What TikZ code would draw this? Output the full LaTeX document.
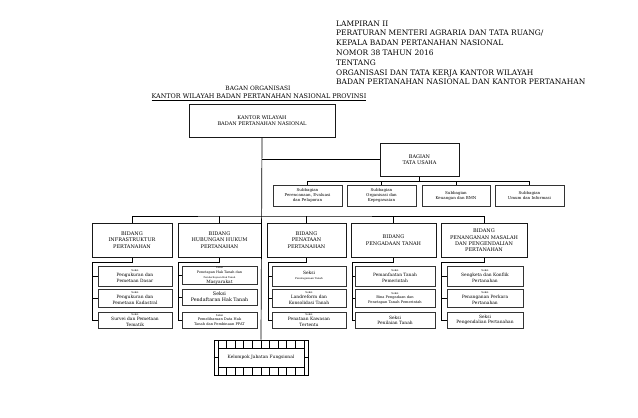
\documentclass[tikz,border=0pt]{standalone}
\usepackage{fontspec}
\setmainfont{DejaVu Serif}
\newcommand{\fs}[2]{\fontsize{#1}{#2}\selectfont}
\begin{document}
\begin{tikzpicture}[x=1pt,y=-1pt,
  bigbox/.style={draw=black!90, line width=1pt, align=center, inner sep=0pt, font=\fs{5}{6.4}},
  sbox/.style={draw=black!80, line width=0.8pt, align=center, inner sep=0pt, font=\fs{4.4}{5.2}},
  conn/.style={draw=black, line width=0.7pt},
  hdr/.style={inner sep=0pt, align=left}]
\useasboundingbox (0,0) rectangle (638,418);
% header
\node[hdr, anchor=north west, font=\fs{7.5}{9.8}] (head) at (336,20.5)
 {LAMPIRAN II\\PERATURAN MENTERI AGRARIA DAN TATA RUANG/\\KEPALA BADAN PERTANAHAN NASIONAL\\NOMOR 38 TAHUN 2016\\TENTANG\\ORGANISASI DAN TATA KERJA KANTOR WILAYAH\\BADAN PERTANAHAN NASIONAL DAN KANTOR PERTANAHAN};
\node[inner sep=0pt, font=\fs{5.9}{7}] (t1) at (258,88) {BAGAN ORGANISASI};
\node[inner sep=0pt, font=\fs{6.4}{7}] (t2) at (259,97) {\underline{KANTOR WILAYAH BADAN PERTANAHAN NASIONAL PROVINSI}};
% top boxes
\node[bigbox, minimum width=146pt, minimum height=33pt] (kw) at (262,120.5) {KANTOR WILAYAH\\BADAN PERTANAHAN NASIONAL};
\node[bigbox, minimum width=79pt, minimum height=33pt] (tu) at (419.5,159.5) {BAGIAN\\TATA USAHA};
% subbagian
\begin{scope}[every node/.style={sbox, minimum height=21pt, font=\fs{4}{5}}]
\node[minimum width=69pt] (sb1) at (307.5,195.5) {Subbagian\\Perencanaan, Evaluasi\\dan Pelaporan};
\node[minimum width=69pt] (sb2) at (381.5,195.5) {Subbagian\\Organisasi dan\\Kepegawaian};
\node[minimum width=68pt] (sb3) at (456,195.5) {Subbagian\\Keuangan dan BMN};
\node[minimum width=69pt] (sb4) at (529.5,195.5) {Subbagian\\Umum dan Informasi};
\end{scope}
% bidang
\begin{scope}[every node/.style={bigbox, minimum height=34pt}]
\node[minimum width=80pt] (bd1) at (132,240) {BIDANG\\INFRASTRUKTUR\\PERTANAHAN};
\node[minimum width=83pt] (bd2) at (219.5,240) {BIDANG\\HUBUNGAN HUKUM\\PERTANAHAN};
\node[minimum width=79pt] (bd3) at (306.5,240) {BIDANG\\PENATAAN\\PERTANAHAN};
\node[minimum width=85pt] (bd4) at (393.5,240) {BIDANG\\PENGADAAN TANAH};
\node[minimum width=86pt] (bd5) at (484,240.5) {BIDANG\\PENANGANAN MASALAH\\DAN PENGENDALIAN\\PERTANAHAN};
\end{scope}
% seksi
\newcommand{\sk}{{\fs{2.6}{3}Seksi}\\}
\begin{scope}[every node/.style={sbox}]
% col 1
\node[minimum width=74pt, minimum height=20pt] (s11) at (135,276) {\sk Pengukuran dan\\Pemetaan Dasar};
\node[minimum width=74pt, minimum height=18pt] (s12) at (135,298) {\sk Pengukuran dan\\Pemetaan Kadastral};
\node[minimum width=74pt, minimum height=16pt] (s13) at (135,320) {\sk Survei dan Pemetaan\\Tematik};
% col 2
\node[minimum width=75pt, minimum height=18pt] (s21) at (219.5,275.5) {\sk {\fs{3.4}{4}Penetapan Hak Tanah dan}\\{\fs{2.4}{3}Pemberdayaan Hak Tanah}\\Masyarakat};
\node[minimum width=75pt, minimum height=16pt, font=\fs{4.8}{5.6}] (s22) at (219.5,297) {Seksi\\Pendaftaran Hak Tanah};
\node[minimum width=75pt, minimum height=16pt, font=\fs{3.6}{4.6}] (s23) at (219.5,320) {\sk Pemeliharaan Data Hak\\Tanah dan Pembinaan PPAT};
% col 3
\node[minimum width=74pt, minimum height=20pt] (s31) at (309,276) {Seksi\\{\fs{2.6}{3}Penatagunaan Tanah}};
\node[minimum width=74pt, minimum height=18pt] (s32) at (309,298) {\sk Landreform dan\\Konsolidasi Tanah};
\node[minimum width=74pt, minimum height=16pt] (s33) at (309,320) {\sk Penataan Kawasan\\Tertentu};
% col 4
\node[minimum width=80pt, minimum height=20pt] (s41) at (395,276) {\sk Pemanfaatan Tanah\\Pemerintah};
\node[minimum width=80pt, minimum height=18pt, font=\fs{3.6}{4.6}] (s42) at (395,298) {\sk Bina Pengadaan dan\\Penetapan Tanah Pemerintah};
\node[minimum width=80pt, minimum height=16pt] (s43) at (395,320) {Seksi\\Penilaian Tanah};
% col 5
\node[minimum width=76pt, minimum height=20pt] (s51) at (485,276) {\sk Sengketa dan Konflik\\Pertanahan};
\node[minimum width=76pt, minimum height=18pt] (s52) at (485,298) {\sk Penanganan Perkara\\Pertanahan};
\node[minimum width=76pt, minimum height=16pt] (s53) at (485,320) {Seksi\\Pengendalian Pertanahan};
\end{scope}
% kelompok jabatan fungsional
\node[draw=black, line width=0.9pt, minimum width=94pt, minimum height=35pt, inner sep=0pt] (kj) at (261,357.5) {};
\node[draw=black, line width=0.9pt, minimum width=86pt, minimum height=19pt, inner sep=0pt, font=\fs{4.4}{5}] (kjt) at (261,357.5) {Kelompok Jabatan Fungsional};
\foreach \i in {0,...,10} {
  \draw[line width=0.9pt] (218+8.6*\i,340) -- (218+8.6*\i,348);
  \draw[line width=0.9pt] (218+8.6*\i,367) -- (218+8.6*\i,375);
}
\draw[line width=0.9pt] (kj.west) -- (kjt.west);
\draw[line width=0.9pt] (kj.east) -- (kjt.east);
% connectors
\coordinate (spine) at (262,216);
\draw[conn] (kw.south) -- (kj.north);
\draw[conn] (kw.south |- tu.west) -- (tu.west);
\coordinate (sbus) at (419.5,181.5);
\draw[conn] (tu.south) -- (sbus);
\draw[conn] (sb1.north) |- (sbus) -| (sb4.north);
\draw[conn] (sb2.north) -- (sb2.north |- sbus);
\draw[conn] (sb3.north) -- (sb3.north |- sbus);
\draw[conn] (bd1.north) |- (spine) -| (bd5.north);
\foreach \b in {bd2,bd3,bd4} \draw[conn] (\b.north) -- (\b.north |- spine);
% seksi rails
\foreach \c/\x in {1/92,2/178,3/268,4/352,5/441} {
  \coordinate (r\c) at (\x,262);
  \draw[conn] (bd\c.south) |- (r\c) |- (s\c3.west);
  \draw[conn] (s\c1.west -| r\c) -- (s\c1.west);
  \draw[conn] (s\c2.west -| r\c) -- (s\c2.west);
}
\end{tikzpicture}
\end{document}
